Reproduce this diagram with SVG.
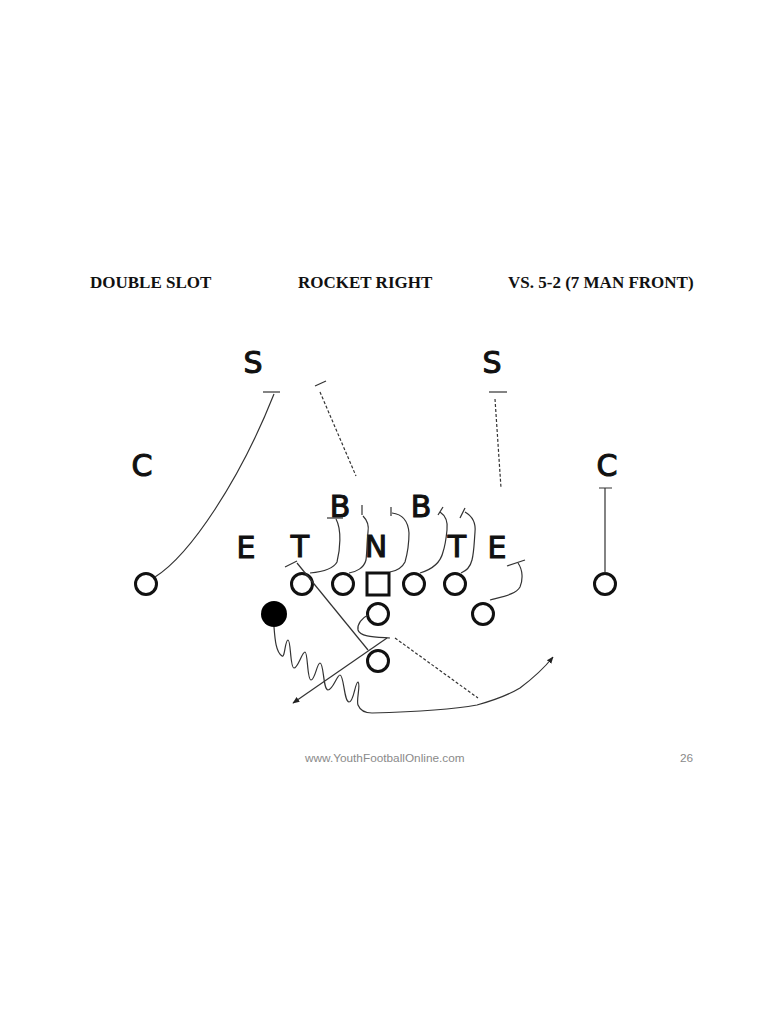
<svg xmlns="http://www.w3.org/2000/svg" width="768" height="1024" viewBox="0 0 768 1024">
<defs>
<style>
.title{font-family:"Liberation Serif","Times New Roman",serif;font-weight:bold;font-size:17px;fill:#111}
.foot{font-family:"Liberation Sans",Arial,sans-serif;font-size:11.8px;fill:#8a8a8a}
.lbl{font-family:"DejaVu Sans","Liberation Sans",sans-serif;font-size:30px;fill:#111;stroke:#111;stroke-width:1.1;text-anchor:middle}
.pl{fill:none;stroke:#111;stroke-width:3}
.ln{fill:none;stroke:#333;stroke-width:1.2}
.dash{fill:none;stroke:#333;stroke-width:1.2;stroke-dasharray:3 2}
</style>
<marker id="ah" viewBox="0 0 10 10" refX="9" refY="5" markerWidth="7" markerHeight="7" orient="auto" markerUnits="userSpaceOnUse">
<path d="M0,1 L10,5 L0,9 z" fill="#222"/>
</marker>
</defs>
<rect width="768" height="1024" fill="#fff"/>
<g id="titles">
<text class="title" x="90" y="288">DOUBLE SLOT</text>
<text class="title" x="298" y="288">ROCKET RIGHT</text>
<text class="title" x="508" y="288">VS. 5-2 (7 MAN FRONT)</text>
</g>
<g id="defense">
<text id="S1" class="lbl" x="253" y="373">S</text>
<text id="S2" class="lbl" x="492" y="373">S</text>
<text id="C1" class="lbl" x="142" y="476">C</text>
<text id="C2" class="lbl" x="607" y="476">C</text>
<text id="B1" class="lbl" x="340" y="517">B</text>
<text id="B2" class="lbl" x="421" y="517">B</text>
<text id="E1" class="lbl" x="246" y="558">E</text>
<text id="T1" class="lbl" x="300" y="557">T</text>
<text id="N" class="lbl" x="376" y="557">N</text>
<text id="T2" class="lbl" x="457" y="557">T</text>
<text id="E2" class="lbl" x="497" y="558">E</text>
</g>
<g id="offense">
<circle id="o1" class="pl" cx="146" cy="584" r="10.5"/>
<circle id="o2" class="pl" cx="302" cy="584" r="10.5"/>
<circle id="o3" class="pl" cx="343" cy="584" r="10.5"/>
<rect id="center" class="pl" x="367" y="573" width="22" height="22"/>
<circle id="o4" class="pl" cx="414" cy="584" r="10.5"/>
<circle id="o5" class="pl" cx="455" cy="584" r="10.5"/>
<circle id="o6" class="pl" cx="605" cy="584" r="10.5"/>
<circle id="o7" class="pl" cx="378" cy="614" r="10.5"/>
<circle id="o8" class="pl" cx="483" cy="614" r="10.5"/>
<circle id="qb" class="pl" cx="378" cy="661" r="10.5"/>
<circle id="ball" cx="274" cy="614" r="13" fill="#000"/>
</g>
<g id="connectors">
<path class="ln" d="M263,392 H280"/>
<path class="ln" d="M155,577 C190,555 240,480 274,394"/>
<path class="ln" d="M315,386 L326,381"/>
<path class="dash" d="M320,392 L356,476"/>
<path class="ln" d="M489,392 H507"/>
<path class="dash" d="M495,399 L501,488"/>
<path class="ln" d="M599,488 H612 M605,488 V573"/>
<path class="ln" d="M327,518 H343"/>
<path class="ln" d="M336,519 C342,530 340,550 337,562 C333,570 320,572 310,573"/>
<path class="ln" d="M362,505 V515"/>
<path class="ln" d="M363,516 C367,520 369,526 368,532 C367,542 367,552 366,560 C364,568 356,572 349,573"/>
<path class="ln" d="M391,507 V516"/>
<path class="ln" d="M392,513 C402,514 408,520 409,533 C409,545 407,555 405,562 C402,568 396,571 390,572"/>
<path class="ln" d="M438,515 L443,507"/>
<path class="ln" d="M440,512 C446,516 448,522 447,530 C446,540 445,546 443,552 C440,565 430,570 420,573"/>
<path class="ln" d="M460,518 L465,508"/>
<path class="ln" d="M465,512 C472,516 476,522 475,532 C474,545 474,552 472,560 C470,568 466,571 461,573"/>
<path class="ln" d="M507,566 L525,560"/>
<path class="ln" d="M518,563 C523,570 523,580 520,587 C516,594 505,596 490,600"/>
<path class="ln" d="M285,567 L297,561"/>
<path class="ln" d="M297,563 L368,650"/>
<path class="ln" d="M387,638 L293,703" marker-end="url(#ah)"/>
<path class="ln" d="M368,615 C362,618 357,624 358,630 C360,637 375,637 390,638"/>
<path class="dash" d="M395,638 L478,698"/>
<path class="ln" d="M274,627 C275,640 276,652 282,656 C285,658 285,640 288,640 C291,640 290,668 294,668 C298,668 302,652 305,652 C308,652 307,680 311,680 C315,680 317,663 320,663 C324,663 323,690 328,690 C333,690 337,675 340,675 C344,675 344,702 349,702 C354,702 355,682 358,682 C361,684 356,700 358,705 C360,710 364,713 372,713 C410,712 450,710 477,705 C495,700 510,694 520,688 C532,679 545,667 553,657" marker-end="url(#ah)"/>
</g>
<g id="footer">
<text class="foot" x="305" y="762">www.YouthFootballOnline.com</text>
<text class="foot" x="680" y="762">26</text>
</g>
</svg>
